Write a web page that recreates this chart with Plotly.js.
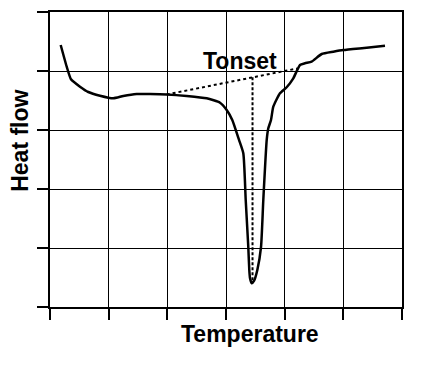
<!DOCTYPE html>
<html>
<head>
<meta charset="utf-8">
<script src="https://cdn.plot.ly/plotly-3.0.1.min.js"></script>
<style>html,body{margin:0;padding:0;background:#fff;}#chart{width:425px;height:369px;}</style>
</head>
<body>
<div id="chart"></div>
<script>
// DSC curve (arbitrary units): temperature vs heat flow
var temperature = [0.182,0.285,0.358,0.511,0.653,0.852,1.079,1.249,1.478,1.705,1.989,2.330,2.671,2.898,3.012,3.107,3.222,3.295,3.336,3.380,3.397,3.409,3.438,3.477,3.534,3.597,3.636,3.694,3.721,3.767,3.806,3.920,4.034,4.147,4.261,4.346,4.460,4.631,4.829,4.999,5.398,5.710];
var heatFlow    = [4.441,4.073,3.859,3.734,3.644,3.581,3.537,3.576,3.610,3.610,3.602,3.576,3.537,3.463,3.339,3.169,2.831,2.605,1.814,1.017,0.627,0.492,0.401,0.441,0.627,1.017,1.814,2.831,3.029,3.169,3.395,3.622,3.724,3.876,4.102,4.131,4.158,4.288,4.327,4.356,4.395,4.429];
// extrapolated baseline and onset marker
var baselineX = [1.989, 4.21];
var baselineY = [3.602, 4.042];
var onsetX = [3.452, 3.452];
var onsetY = [3.892, 0.42];
var xTicks = [0,1,2,3,4,5,6];
var yTicks = [0,1,2,3,4,5];

var font = "Liberation Sans, Arial, Helvetica, sans-serif";
var traces = [
  {x: baselineX, y: baselineY, mode: 'lines', line: {color: '#000', width: 2, dash: '3px,3px'}, hoverinfo: 'skip'},
  {x: onsetX, y: onsetY, mode: 'lines', line: {color: '#000', width: 2, dash: '3px,2px'}, hoverinfo: 'skip'},
  {x: temperature, y: heatFlow, mode: 'lines', line: {color: '#000', width: 2.5, shape: 'spline', smoothing: 0.5}}
];
var axisCommon = {
  showticklabels: false, ticks: 'outside', ticklen: 11, tickwidth: 2, tickcolor: '#000',
  showline: true, linewidth: 2, linecolor: '#000', mirror: true,
  showgrid: true, gridcolor: '#000', gridwidth: 1, zeroline: false, tickmode: 'array'
};
var layout = {
  width: 425, height: 369,
  margin: {l: 50, r: 23, t: 12, b: 62},
  paper_bgcolor: '#fff', plot_bgcolor: '#fff',
  showlegend: false,
  xaxis: Object.assign({}, axisCommon, {range: [0, 6], tickvals: xTicks}),
  yaxis: Object.assign({}, axisCommon, {range: [0, 5], tickvals: yTicks}),
  annotations: [
    {text: 'Tonset', xref: 'x', yref: 'y', x: 3.238, y: 4.178, showarrow: false, xanchor: 'center', yanchor: 'middle',
     font: {family: font, size: 23, color: '#000', weight: 'bold'}},
    {text: 'Temperature', xref: 'paper', yref: 'paper', x: 0.5696, y: -0.0925, showarrow: false, xanchor: 'center', yanchor: 'middle',
     font: {family: font, size: 23, color: '#000', weight: 'bold'}},
    {text: 'Heat flow', xref: 'paper', yref: 'paper', x: -0.0852, y: 0.5634, textangle: -90, showarrow: false, xanchor: 'center', yanchor: 'middle',
     font: {family: font, size: 23, color: '#000', weight: 'bold'}}
  ]
};
Plotly.newPlot('chart', traces, layout, {staticPlot: true, displayModeBar: false});
</script>
</body>
</html>
